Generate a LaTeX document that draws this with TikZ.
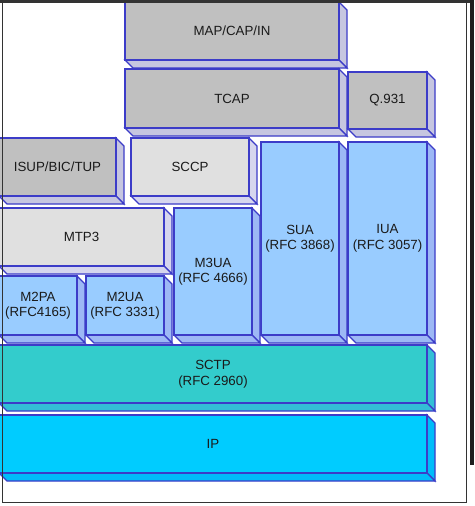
\documentclass[tikz,border=0pt]{standalone}
\usepackage{fontspec}
\setmainfont{Liberation Sans}
\definecolor{edgeblue}{HTML}{3C3CC8}
\definecolor{grayF}{HTML}{C0C0C0}
\definecolor{grayS}{HTML}{C6C6E0}
\definecolor{lgrayF}{HTML}{E0E0E0}
\definecolor{lgrayS}{HTML}{D6D6EE}
\definecolor{blueF}{HTML}{99CCFF}
\definecolor{blueS}{HTML}{9DB8F5}
\definecolor{tealF}{HTML}{33CCCC}
\definecolor{tealS}{HTML}{33BFD6}
\definecolor{ipF}{HTML}{00CCFF}
\definecolor{ipS}{HTML}{00BCFA}
\definecolor{frameC}{HTML}{333333}
\definecolor{textC}{HTML}{1A1A1A}
\tikzset{
  face/.style={draw=edgeblue, line width=1.2pt, line join=miter},
  boxlabel/.style={font=\fontsize{13.3}{15.5}\selectfont, text=textC, align=center, inner sep=0pt},
}
% #1 name, #2 x1, #3 y1, #4 x2, #5 y2, #6 front colour, #7 side colour, #8 text
\newcommand\stackbox[8]{%
  \filldraw[face, fill=#7] (#4,#3) -- (#4+8,#3+8) -- (#4+8,#5+8) -- (#4,#5) -- cycle;
  \filldraw[face, fill=#7] (#2,#5) -- (#4,#5) -- (#4+8,#5+8) -- (#2+8,#5+8) -- cycle;
  \filldraw[face, fill=#6] (#2,#3) rectangle (#4,#5);
  \node[boxlabel] (#1) at ({(#2+#4)/2},{(#3+#5)/2}) {#8};
}
\begin{document}
\begin{tikzpicture}[x=1pt,y=-1pt]
\useasboundingbox (0,0) rectangle (474,506);
\clip (0,0) rectangle (474,506);
\fill[white] (0,0) rectangle (474,506);
% layers
\stackbox{map}{125}{2}{339}{60}{grayF}{grayS}{MAP/CAP/IN}
\stackbox{tcap}{125}{69}{339}{128}{grayF}{grayS}{TCAP}
\stackbox{q931}{348}{72}{427}{129}{grayF}{grayS}{Q.931}
\stackbox{isup}{-1}{138}{116}{196}{grayF}{grayS}{ISUP/BIC/TUP}
\stackbox{sccp}{131}{138}{249}{196}{lgrayF}{lgrayS}{SCCP}
\stackbox{sua}{261}{142}{339}{335}{blueF}{blueS}{SUA\\(RFC 3868)}
\stackbox{iua}{348}{142}{427}{335}{blueF}{blueS}{IUA\\(RFC 3057)}
\stackbox{mtp3}{-1}{208}{164}{266}{lgrayF}{lgrayS}{MTP3}
\stackbox{m3ua}{174}{208}{252}{335}{blueF}{blueS}{M3UA\\(RFC 4666)}
\stackbox{m2pa}{-1}{276}{77}{335}{blueF}{blueS}{M2PA\\(RFC4165)}
\stackbox{m2ua}{86}{276}{164}{335}{blueF}{blueS}{M2UA\\(RFC 3331)}
\stackbox{sctp}{-1}{345}{427}{403}{tealF}{tealS}{SCTP\\(RFC 2960)}
\stackbox{ip}{-1}{415}{427}{473}{ipF}{ipS}{IP}
% frame
\draw[frameC, line width=1pt] (2.5,2) rectangle (466,502);
\fill[frameC] (0,0) rectangle (474,3);
\fill[black!88] (470,0) rectangle (474,465);
\end{tikzpicture}
\end{document}
